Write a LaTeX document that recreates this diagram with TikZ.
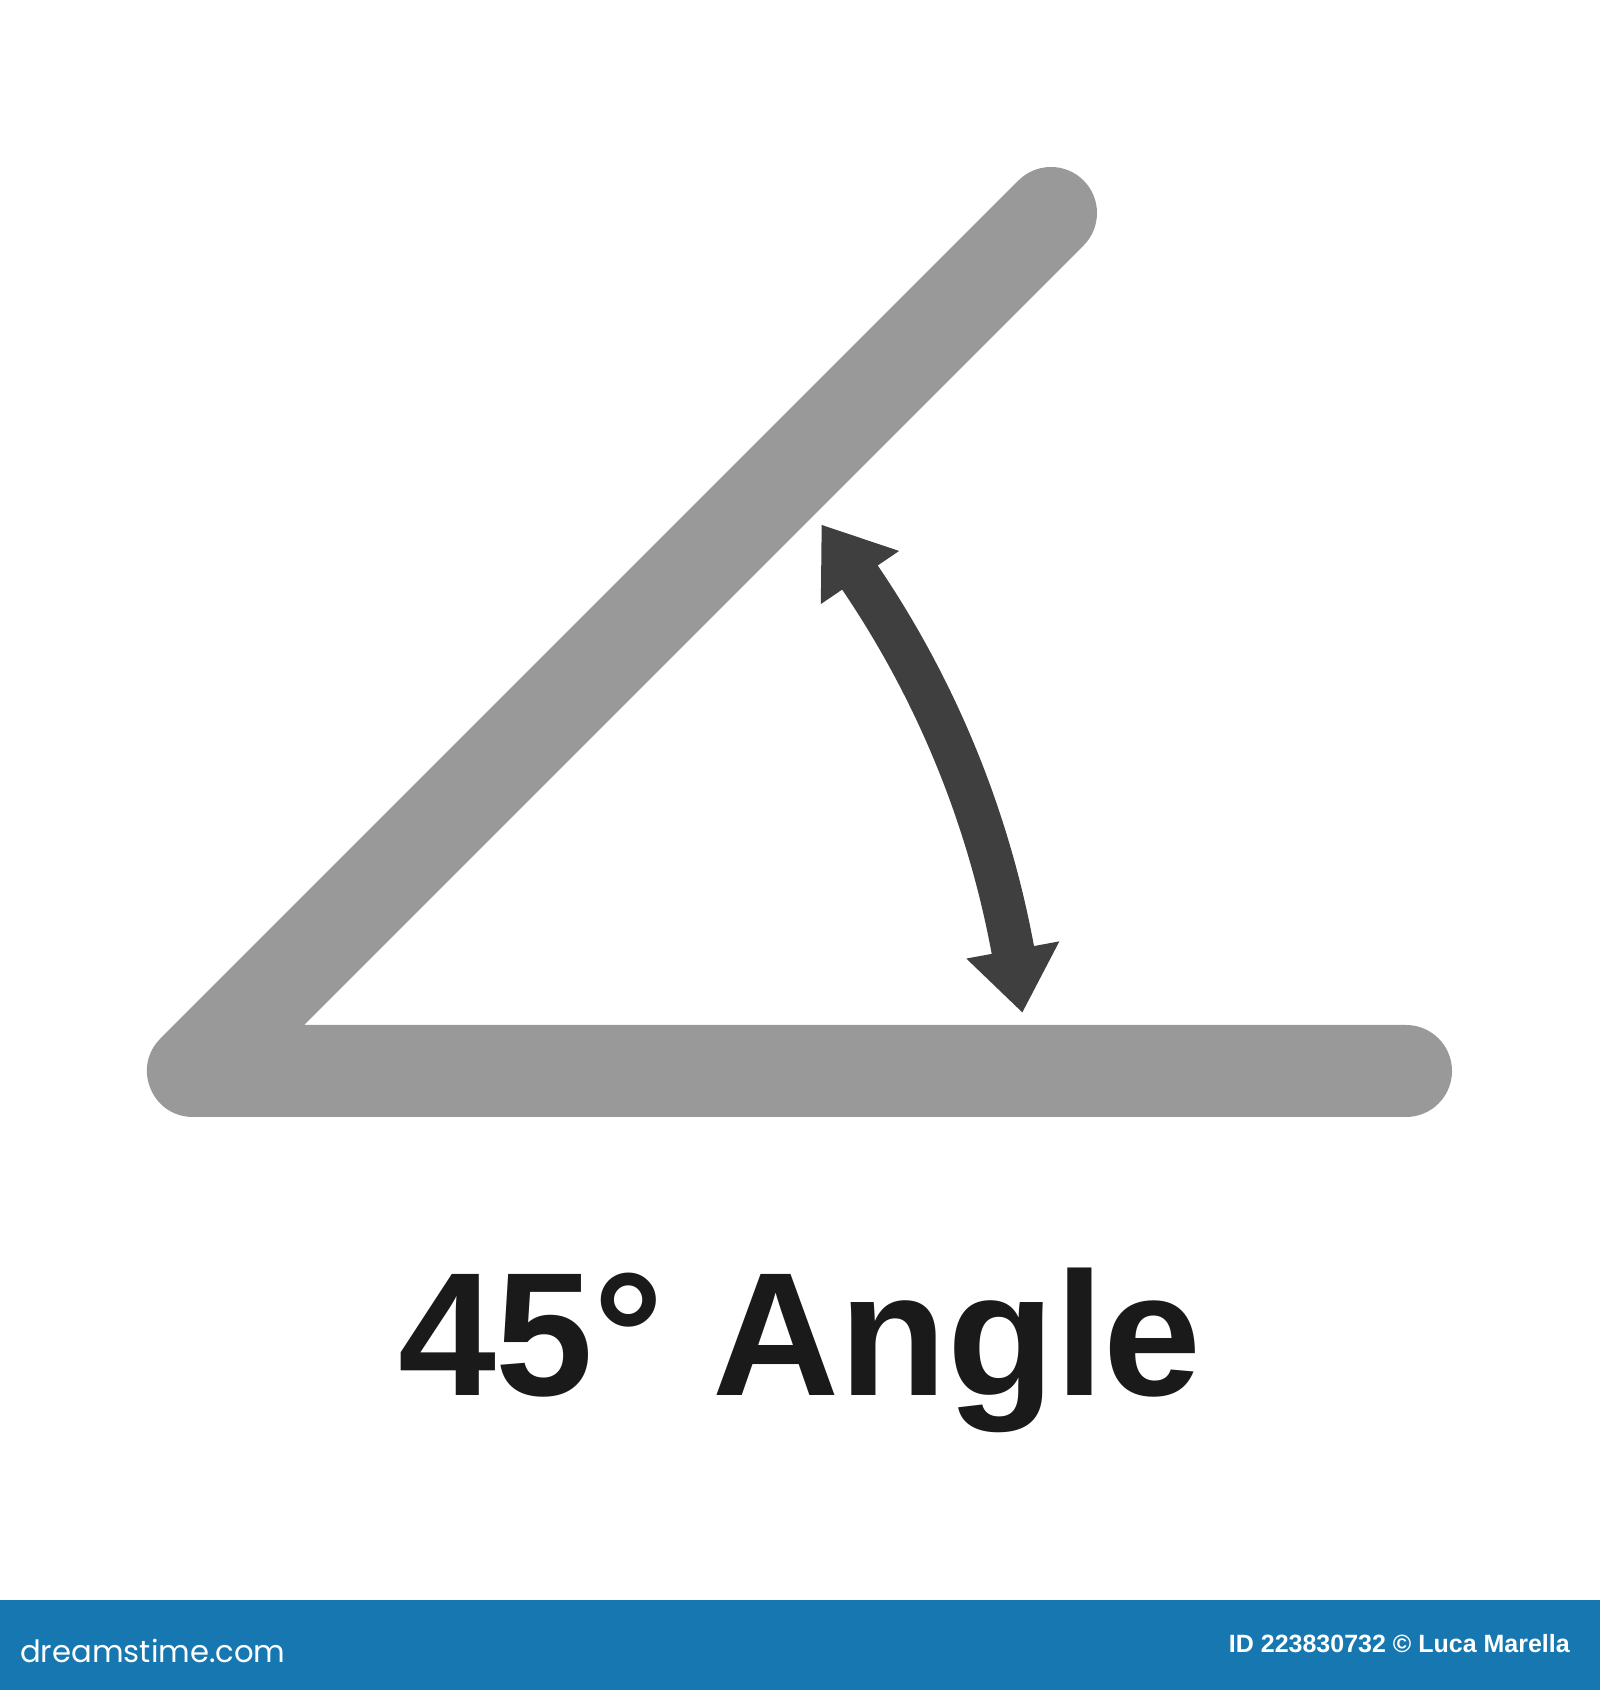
\documentclass[tikz,border=0pt]{standalone}
\usepackage{fontspec}
\setmainfont{Liberation Sans}
\newfontfamily\logofont{Poppins}
\usetikzlibrary{calc}
\definecolor{bargray}{RGB}{153,153,153}
\definecolor{arrowdark}{RGB}{63,63,63}
\definecolor{textdark}{RGB}{26,26,26}
\definecolor{bannerblue}{RGB}{23,119,176}
\tikzset{
  bar/.style={draw=bargray, line width=92pt, line cap=round, line join=round},
  shaft/.style={draw=arrowdark, line width=43pt},
  head/.style={fill=arrowdark, draw=none},
  title/.style={font=\bfseries\fontsize{176}{200}\selectfont, text=textdark, inner sep=0pt},
}
\begin{document}
\begin{tikzpicture}[x=1pt,y=1pt]
\useasboundingbox (0,0) rectangle (1600,1690);
\fill[white] (0,0) rectangle (1600,1690);
% vertex and ends of the two bars
\coordinate (V) at (193,619);
\coordinate (T) at (1051,1477);
\coordinate (R) at (1406,619);
\draw[bar] (T) -- (V) -- (R);
% curved double arrow
\coordinate (C) at (48.9,561.9);
\draw[shaft] ($(C)+(10.2:980.3)$) arc[start angle=10.2, end angle=34.4, radius=980.3];
\fill[head] ($(C)+(37.97:980.3)$) -- ($(C)+(34.17:1027.6)$) -- ($(C)+(34.17:933.0)$) -- cycle;
\fill[head] ($(C)+(6.78:980.3)$) -- ($(C)+(10.47:933.0)$) -- ($(C)+(10.47:1027.6)$) -- cycle;
% title
\node[title, anchor=base] (lbl) at (800,294) {45° Angle};
% banner
\fill[bannerblue] (0,0) rectangle (1600,90);
\node[anchor=base west, inner sep=0pt, text=white, font=\logofont\fontsize{30.7}{34}\selectfont] (logo) at (20,27.3) {dreamstime.com};
\node[anchor=base east, inner sep=0pt, text=white, font=\bfseries\fontsize{25}{28}\selectfont] (credit) at (1570,37) {ID 223830732 © Luca Marella};
\end{tikzpicture}
\end{document}
